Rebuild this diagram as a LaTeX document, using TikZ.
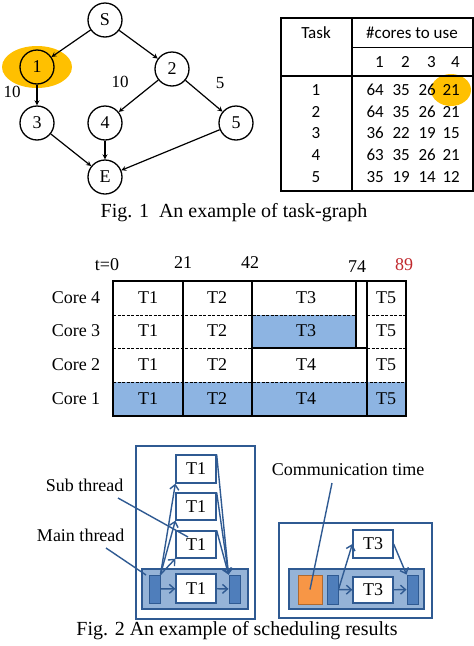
\documentclass[tikz,border=0pt]{standalone}
\usepackage{fontspec}
\setmainfont{Liberation Serif}
\newfontfamily\tablefont{Carlito}
\usetikzlibrary{arrows, arrows.meta}
\definecolor{gold}{HTML}{FFC000}
\definecolor{ganttblue}{HTML}{8DB4E2}
\definecolor{lineblue}{HTML}{2F5A92}
\definecolor{barblue}{HTML}{95B3D7}
\definecolor{darkbar}{HTML}{4F7EBB}
\definecolor{commorange}{HTML}{F79646}
\definecolor{timered}{HTML}{C0282D}
\newcommand{\pxfont}[1]{\fontsize{#1}{#1}\selectfont}
\tikzstyle{task} = [circle, draw, line width=1.3pt, minimum size=34pt, inner sep=0pt, font=\pxfont{18}]
\tikzstyle{edge} = [line width=1.2pt,->,>=stealth]
\tikzstyle{cell} = [inner sep=0pt, font=\tablefont\pxfont{17}]
\tikzstyle{gbox} = [line width=1.8pt]
\tikzstyle{gsep} = [line width=0.7pt, dash pattern=on 3pt off 1.5pt]
\tikzstyle{thread} = [draw=lineblue, fill=white, line width=1.3pt, minimum width=40pt, inner sep=0pt, font=\pxfont{18}]
\tikzstyle{core} = [draw=lineblue, fill=darkbar, line width=1pt, minimum width=11pt, minimum height=28pt, inner sep=0pt]
\tikzstyle{flow} = [draw=lineblue, line width=1.4pt, -{Straight Barb[length=5pt, width=9pt]}]
\tikzstyle{leader} = [draw=lineblue, line width=1.4pt]

\begin{document}
\begin{tikzpicture}[x=1pt, y=-1pt]
        \useasboundingbox (0,0) rectangle (474,646);

        %task graph
        \fill[gold] (37,67) ellipse (35 and 21);
        \node at (105,20) [task, fill=white] (S) {S};
        \node at (37,67) [task] (1) {1};
        \node at (172,69) [task, fill=white] (2) {2};
        \node at (37,123) [task, fill=white] (3) {3};
        \node at (105,123) [task, fill=white] (4) {4};
        \node at (236,123) [task, fill=white] (5) {5};
        \node at (105,177) [task, fill=white] (E) {E};

        \draw [edge] (S) -- (1);
        \draw [edge] (S) -- (2);
        \draw [edge] (1) -- (3);
        \draw [edge] (2) -- (4);
        \draw [edge] (2) -- (5);
        \draw [edge] (3) -- (E);
        \draw [edge] (4) -- (E);
        \draw [edge] (5) -- (E);

        \node at (12,92) [font=\pxfont{17}] (w13) {10};
        \node at (120,82) [font=\pxfont{17}] (w24) {10};
        \node at (220,83) [font=\pxfont{17}] (w25) {5};

        %table of times
        \fill[gold] (451,90) ellipse (20 and 16);
        \draw [line width=1.2pt] (281,18) rectangle (473,191);
        \draw [line width=1.2pt] (352,18) -- (352,191);
        \draw [line width=1pt] (352,47) -- (473,47);
        \draw [line width=1.2pt] (281,76) -- (473,76);
        \node at (316,33) [cell] (taskhead) {Task};
        \node at (412,33) [cell] (corehead) {\#cores to use};
        \node at (384,62) [cell, anchor=east] (n1) {1};
        \node at (410,62) [cell, anchor=east] (n2) {2};
        \node at (436,62) [cell, anchor=east] (n3) {3};
        \node at (460,62) [cell, anchor=east] (n4) {4};

        \node at (316,90) [cell] (r1) {1};
        \node at (384,90) [cell, anchor=east] (r1a) {64};
        \node at (410,90) [cell, anchor=east] (r1b) {35};
        \node at (436,90) [cell, anchor=east] (r1c) {26};
        \node at (460,90) [cell, anchor=east] (r1d) {21};

        \node at (316,112) [cell] (r2) {2};
        \node at (384,112) [cell, anchor=east] (r2a) {64};
        \node at (410,112) [cell, anchor=east] (r2b) {35};
        \node at (436,112) [cell, anchor=east] (r2c) {26};
        \node at (460,112) [cell, anchor=east] (r2d) {21};

        \node at (316,133) [cell] (r3) {3};
        \node at (384,133) [cell, anchor=east] (r3a) {36};
        \node at (410,133) [cell, anchor=east] (r3b) {22};
        \node at (436,133) [cell, anchor=east] (r3c) {19};
        \node at (460,133) [cell, anchor=east] (r3d) {15};

        \node at (316,155) [cell] (r4) {4};
        \node at (384,155) [cell, anchor=east] (r4a) {63};
        \node at (410,155) [cell, anchor=east] (r4b) {35};
        \node at (436,155) [cell, anchor=east] (r4c) {26};
        \node at (460,155) [cell, anchor=east] (r4d) {21};

        \node at (316,177) [cell] (r5) {5};
        \node at (384,177) [cell, anchor=east] (r5a) {35};
        \node at (410,177) [cell, anchor=east] (r5b) {19};
        \node at (436,177) [cell, anchor=east] (r5c) {14};
        \node at (460,177) [cell, anchor=east] (r5d) {12};

        \node at (234,217) [anchor=base, font=\pxfont{20}] (cap1) {Fig. 1\ \ An example of task-graph};

        %schedule chart
        \fill[ganttblue] (113,382) rectangle (406,416);
        \fill[ganttblue] (252,315) rectangle (356,348);
        \draw [gsep] (113,315) -- (356,315);
        \draw [gsep] (367,315) -- (406,315);
        \draw [gsep] (113,348) -- (252,348);
        \draw [gsep] (367,348) -- (406,348);
        \draw [gsep] (113,382) -- (406,382);
        \draw [gbox] (113,281) rectangle (183,416);
        \draw [gbox] (183,281) rectangle (252,416);
        \draw [gbox] (252,281) rectangle (356,348);
        \draw [gbox] (252,348) rectangle (367,416);
        \draw [gbox] (367,281) rectangle (406,416);
        \draw [gbox] (356,281) -- (367,281);

        \node at (107,265) [font=\pxfont{18}] (t0) {t=0};
        \node at (183,263) [font=\pxfont{18}] (t21) {21};
        \node at (250,263) [font=\pxfont{18}] (t42) {42};
        \node at (357,267) [font=\pxfont{18}] (t74) {74};
        \node at (404,265) [font=\pxfont{18}, text=timered] (t89) {89};

        \node at (76,298) [font=\pxfont{18}] (c4) {Core 4};
        \node at (76,331) [font=\pxfont{18}] (c3) {Core 3};
        \node at (76,365) [font=\pxfont{18}] (c2) {Core 2};
        \node at (76,399) [font=\pxfont{18}] (c1) {Core 1};

        \node at (148,298) [font=\pxfont{18}] (a41) {T1};
        \node at (217,298) [font=\pxfont{18}] (a42) {T2};
        \node at (306,298) [font=\pxfont{18}] (a43) {T3};
        \node at (386,298) [font=\pxfont{18}] (a45) {T5};
        \node at (148,331) [font=\pxfont{18}] (a31) {T1};
        \node at (217,331) [font=\pxfont{18}] (a32) {T2};
        \node at (306,331) [font=\pxfont{18}] (a33) {T3};
        \node at (386,331) [font=\pxfont{18}] (a35) {T5};
        \node at (148,365) [font=\pxfont{18}] (a21) {T1};
        \node at (217,365) [font=\pxfont{18}] (a22) {T2};
        \node at (306,365) [font=\pxfont{18}] (a24) {T4};
        \node at (386,365) [font=\pxfont{18}] (a25) {T5};
        \node at (148,399) [font=\pxfont{18}] (a11) {T1};
        \node at (217,399) [font=\pxfont{18}] (a12) {T2};
        \node at (306,399) [font=\pxfont{18}] (a14) {T4};
        \node at (386,399) [font=\pxfont{18}] (a15) {T5};

        %threads of T1
        \draw [leader] (136,446) rectangle (255,619);
        \draw [leader, fill=barblue] (142,569) rectangle (248,609);
        \node at (154.5,589) [core] (ml) {};
        \node at (234.5,589) [core] (mr) {};
        \node at (196,469) [thread, minimum height=28pt] (s1) {T1};
        \node at (196,506.5) [thread, minimum height=27pt] (s2) {T1};
        \node at (196,544.5) [thread, minimum height=27pt] (s3) {T1};
        \node at (196,588.5) [thread, minimum height=29pt] (m1) {T1};

        \draw [flow] (ml.north east) -- (s1.south west);
        \draw [flow] (ml.north east) -- (s2.south west);
        \draw [flow] (ml.north east) -- (s3.south west);
        \draw [flow] (ml) -- (m1);
        \draw [flow] (s1.north east) -- (mr.north west);
        \draw [flow] (s2.north east) -- (mr.north west);
        \draw [flow] (s3.north east) -- (mr.north west);
        \draw [flow] (m1) -- (mr);

        \node at (127,485) [anchor=east, font=\pxfont{18}] (subl) {Sub thread};
        \node at (128,535) [anchor=east, font=\pxfont{18}] (mainl) {Main thread};
        \coordinate (subfoot) at (118,498);
        \coordinate (subtip) at (188,537);
        \coordinate (mainfoot) at (106,548);
        \coordinate (maintip) at (146,575);
        \draw [leader] (subfoot) -- (subtip);
        \draw [leader] (mainfoot) -- (maintip);

        %threads of T3
        \draw [leader] (279,523) rectangle (432,618);
        \draw [leader, fill=barblue] (289,569) rectangle (424,609);
        \node at (310,589.5) [draw=commorange!70!black, fill=commorange, line width=1pt, minimum width=24pt, minimum height=29pt, inner sep=0pt] (comm) {};
        \node at (332.5,589.5) [core, minimum height=29pt] (cl) {};
        \node at (412.5,589.5) [core, minimum height=29pt] (cr) {};
        \node at (373,544) [thread, minimum height=28pt] (t3a) {T3};
        \node at (373,590) [thread, minimum height=26pt] (t3b) {T3};

        \draw [flow] (cl.east) -- (t3a.west);
        \draw [flow] (cl) -- (t3b);
        \draw [flow] (t3a.east) -- (cr.north west);
        \draw [flow] (t3b) -- (cr);

        \node at (348,470) [font=\pxfont{18}] (commlabel) {Communication time};
        \coordinate (commfoot) at (332,483);
        \draw [leader] (commfoot) -- (comm.center);

        \node at (237,635) [anchor=base, font=\pxfont{20}] (cap2) {Fig. 2 An example of scheduling results};

    \end{tikzpicture}
\end{document}
